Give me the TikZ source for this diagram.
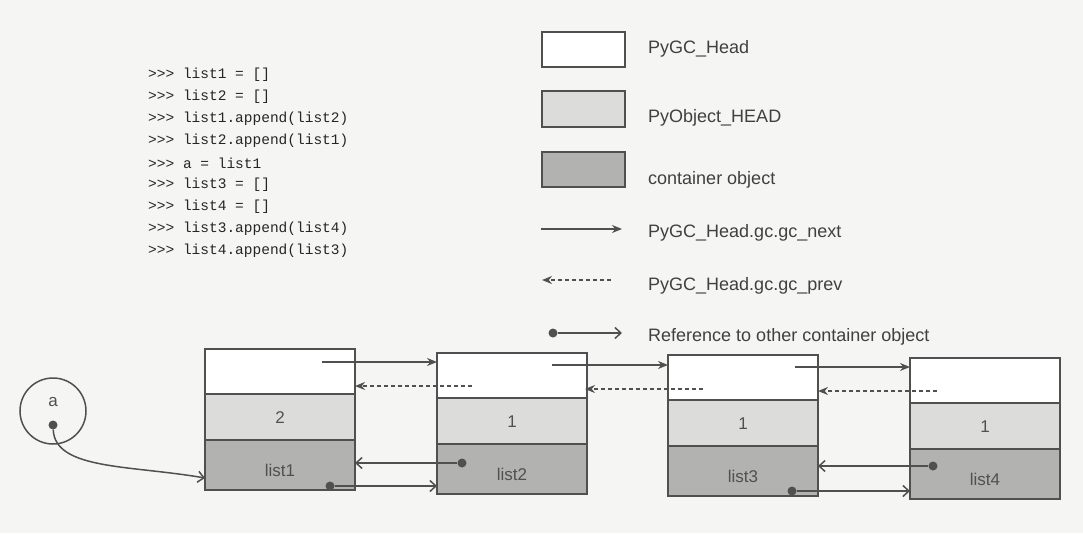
\documentclass[tikz,border=0pt]{standalone}
\usepackage{fontspec}
\setmainfont{Liberation Sans}
\newfontfamily\codefont{Liberation Mono}
\usetikzlibrary{arrows.meta}
\definecolor{lgray}{HTML}{DCDCDA}
\definecolor{dgray}{HTML}{B2B2B0}
\definecolor{lc}{HTML}{505050}
\definecolor{bg}{HTML}{F5F5F3}
\begin{document}
\begin{tikzpicture}[x=1pt,y=-1pt,
  lbl/.style={font=\fontsize{17}{20}\selectfont,text=lc,inner sep=0pt},
  code/.style={font=\codefont\fontsize{14.5}{16}\selectfont,anchor=west,inner sep=0pt,text=black!85},
  nxt/.style={draw=lc,line width=1.5pt,-{Stealth[length=10pt,width=8pt]}},
  prv/.style={draw=lc,line width=1.5pt,dash pattern=on 4pt off 3pt,-{Stealth[length=10pt,width=8pt]}},
  ref/.style={draw=lc,line width=1.5pt,-{Straight Barb[length=6pt,width=11pt]}},
  dotc/.style={circle,fill=lc,inner sep=0pt,minimum size=9pt},
  leg/.style={font=\fontsize{18}{21}\selectfont,text=black!75,anchor=west,inner sep=0pt}]
\useasboundingbox[fill=bg] (0,0) rectangle (1083,533);
% code
\foreach \t [count=\i] in {{>>> list1 = []},{>>> list2 = []},{>>> list1.append(list2)},{>>> list2.append(list1)},{>>> a = list1},{>>> list3 = []},{>>> list4 = []},{>>> list3.append(list4)},{>>> list4.append(list3)}}
  \node[code] (c\i) at (148,{53+22*\i}) {\t};
% legend
\draw[lc,line width=1.5pt,fill=white] (542,32) rectangle (625,67);
\draw[lc,line width=1.5pt,fill=lgray] (542,91) rectangle (625,127);
\draw[lc,line width=1.5pt,fill=dgray] (542,152) rectangle (625,187);
\node[leg] (l1) at (648,49) {PyGC\_Head};
\node[leg] (l2) at (648,118) {PyObject\_HEAD};
\node[leg] (l3) at (648,180) {container object};
\node[leg] (l4) at (648,233) {PyGC\_Head.gc.gc\_next};
\node[leg] (l5) at (648,286) {PyGC\_Head.gc.gc\_prev};
\node[leg] (l6) at (648,337) {Reference to other container object};
\coordinate (n1) at (541,229); \coordinate (n2) at (622,229);
\draw[nxt] (n1) -- (n2);
\coordinate (p1) at (611,280); \coordinate (p2) at (542,280);
\draw[prv] (p1) -- (p2);
\node[dotc] (rd) at (553,333) {}; \coordinate (r2) at (622,333);
\draw[ref] (rd) -- (r2);
% boxes
\foreach \n/\x/\y/\c/\l in {1/205/349/2/list1,2/437/353/1/list2,3/668/355/1/list3,4/910/358/1/list4}{
  \draw[lc,line width=1.5pt,fill=white] (\x,\y) rectangle +(150,45);
  \draw[lc,line width=1.5pt,fill=lgray] (\x,\y+45) rectangle +(150,46);
  \draw[lc,line width=1.5pt,fill=dgray] (\x,\y+91) rectangle +(150,50);
  \node[lbl] (cnt\n) at (\x+75,\y+69) {\c};
  \node[lbl] (nm\n) at (\x+75,\y+121) {\l};
}
% gc links
\draw[nxt] (322,362) -- (437,362);
\draw[nxt] (552,365) -- (668,365);
\draw[nxt] (795,367) -- (910,367);
\draw[prv] (472,386) -- (355,386);
\draw[prv] (703,389) -- (585,389);
\draw[prv] (937,391) -- (818,391);
% references
\node[dotc] (d2) at (462,463) {};
\draw[ref] (d2) -- (355,463);
\node[dotc] (d1) at (330,486) {};
\draw[ref] (d1) -- (437,486);
\node[dotc] (d4) at (933,466) {};
\draw[ref] (d4) -- (818,466);
\node[dotc] (d3) at (792,491) {};
\draw[ref] (d3) -- (910,491);
% a
\node[circle,draw=lc,line width=1.5pt,minimum size=66pt,inner sep=0pt] (a) at (53,411) {};
\node[lbl] (at) at (53,402) {a};
\node[dotc] (ad) at (53,425) {};
\draw[ref] (ad) .. controls (55,470) and (130,465) .. (205,478);
\end{tikzpicture}
\end{document}
